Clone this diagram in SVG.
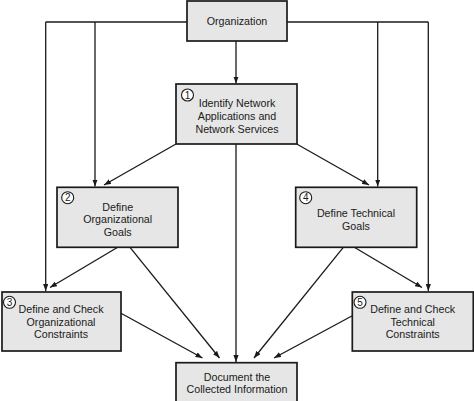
<svg xmlns="http://www.w3.org/2000/svg" width="474" height="401" viewBox="0 0 474 401">
<style>
.box{fill:#e6e6e6;stroke:#1a1a1a;stroke-width:1.7}
.t{font-family:"Liberation Sans",Arial,sans-serif;font-size:10.7px;fill:#1a1a1a;text-anchor:middle}
.n{font-family:"Liberation Sans",Arial,sans-serif;font-size:10px;fill:#1a1a1a;text-anchor:middle}
.c{fill:#fff;stroke:#1a1a1a;stroke-width:1.1}
.l{fill:none;stroke:#1a1a1a;stroke-width:1.3}
.a{fill:none;stroke:#1a1a1a;stroke-width:1.3;marker-end:url(#ah)}
</style>
<defs>
<marker id="ah" viewBox="0 0 8 6" refX="8" refY="3" markerWidth="7" markerHeight="5.5" markerUnits="userSpaceOnUse" orient="auto">
<path d="M0,0 L8,3 L0,6 Z" fill="#1a1a1a"/>
</marker>
</defs>
<rect width="474" height="401" fill="#fff"/>
<g id="connectors">
<path class="l" d="M187,22 H45.7"/>
<path class="l" d="M287,22 H428.3"/>
<path class="a" d="M45.7,22 V291"/>
<path class="a" d="M95,22 V186.5"/>
<path class="a" d="M377.7,22 V186.5"/>
<path class="a" d="M428.3,22 V291"/>
<path class="a" d="M236,41 V83.5"/>
<path class="a" d="M176,144 L104,185"/>
<path class="a" d="M296.7,144 L369,185"/>
<path class="a" d="M236,144 V362"/>
<path class="a" d="M117.7,247.3 L50,287.5"/>
<path class="a" d="M130,247.3 L219.5,358"/>
<path class="a" d="M343.3,247.3 L254,358"/>
<path class="a" d="M354.3,247.3 L422,287.5"/>
<path class="a" d="M121,313.3 L202.5,358"/>
<path class="a" d="M352.3,315.7 L274,358"/>
</g>
<g id="organization">
<rect class="box" x="187" y="1" width="100" height="40"/>
<text class="t" x="237" y="25">Organization</text>
</g>
<g id="step1">
<rect class="box" x="176" y="84" width="121" height="60"/>
<circle class="c" cx="187.5" cy="95" r="6"/>
<text class="n" x="187.5" y="98.6">1</text>
<text class="t" x="237" y="107">Identify Network</text>
<text class="t" x="237" y="120">Applications and</text>
<text class="t" x="237" y="133">Network Services</text>
</g>
<g id="step2">
<rect class="box" x="57" y="187.3" width="121" height="60"/>
<circle class="c" cx="67.7" cy="197.7" r="6"/>
<text class="n" x="67.7" y="201.3">2</text>
<text class="t" x="117.7" y="210.5">Define</text>
<text class="t" x="117.7" y="223">Organizational</text>
<text class="t" x="117.7" y="235.5">Goals</text>
</g>
<g id="step4">
<rect class="box" x="295.7" y="187.3" width="121" height="60"/>
<circle class="c" cx="305.7" cy="197.7" r="6"/>
<text class="n" x="305.7" y="201.3">4</text>
<text class="t" x="356" y="217">Define Technical</text>
<text class="t" x="356" y="229.5">Goals</text>
</g>
<g id="step3">
<rect class="box" x="2" y="292" width="119" height="59"/>
<circle class="c" cx="9.5" cy="302.3" r="6"/>
<text class="n" x="9.5" y="305.9">3</text>
<text class="t" x="61" y="313">Define and Check</text>
<text class="t" x="61" y="325.5">Organizational</text>
<text class="t" x="61" y="338">Constraints</text>
</g>
<g id="step5">
<rect class="box" x="352.3" y="292" width="121" height="59"/>
<circle class="c" cx="360" cy="302.3" r="6"/>
<text class="n" x="360" y="305.9">5</text>
<text class="t" x="412.7" y="313">Define and Check</text>
<text class="t" x="412.7" y="325.5">Technical</text>
<text class="t" x="412.7" y="338">Constraints</text>
</g>
<g id="document">
<rect class="box" x="176" y="362.7" width="121" height="45"/>
<text class="t" x="237" y="380.5">Document the</text>
<text class="t" x="237" y="393">Collected Information</text>
</g>
</svg>
